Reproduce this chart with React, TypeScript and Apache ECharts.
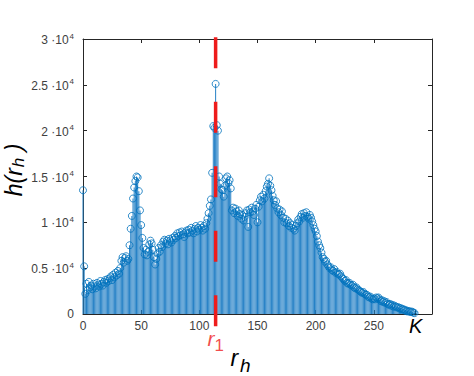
import React, { useEffect, useRef } from 'react';
import * as echarts from 'echarts';

// histogram values h(r_h), r_h = 0..285
const hValues: number[] = [
  13500, 5200, 2200, 3300, 2600, 3500, 2900, 3100, 2700, 3300,
  3000, 2800, 3400, 3200, 3000, 3600, 3300, 3100, 3500, 3700,
  3400, 3800, 3600, 3900, 4100, 3700, 4300, 4000, 4500, 4200,
  4700, 4400, 5000, 5800, 6200, 5600, 6100, 6300, 5800, 6000,
  7500, 9300, 10700, 12600, 13800, 14500, 15000, 14900, 13400, 11300,
  9700, 8300, 7200, 6500, 7000, 6400, 6800, 7600, 8000, 7700,
  7000, 6200, 5400, 6000, 6600, 7200, 6800, 7500, 7300, 7900,
  8100, 7700, 8000, 7600, 8200, 8000, 7800, 8300, 8100, 8500,
  8300, 8800, 8500, 8900, 8600, 9000, 8700, 8400, 8900, 9100,
  8800, 9200, 8900, 9400, 9100, 8800, 9300, 9600, 9000, 9400,
  9200, 9700, 9400, 9100, 9600, 9300, 9900, 10400, 11000, 11800,
  12500, 15400, 20500, 20300, 25100, 20600, 20000, 15000, 14200, 13600,
  13500, 12800, 14000, 14800, 15000, 14300, 14600, 13700, 11300, 11600,
  11000, 11500, 11200, 10700, 11300, 10900, 10400, 10800, 10200, 10600,
  11000, 11300, 9500, 11400, 11100, 11600, 11200, 10800, 11500, 11900,
  10000, 11700, 12400, 12800, 12300, 13000, 12600, 13400, 13900, 14200,
  14800, 14000, 13500, 12900, 12400, 11900, 12300, 11500, 11100, 11400,
  10800, 11200, 10500, 10000, 10400, 9900, 10200, 9600, 9900, 9400,
  9700, 9300, 9100, 9600, 9900, 10300, 10100, 10600, 10900, 10500,
  11000, 10700, 11100, 10600, 10400, 10800, 10500, 10100, 9700, 9300,
  9000, 8500, 7900, 7500, 7200, 6700, 6200, 6000, 5700, 5800,
  5400, 5200, 5000, 5100, 4800, 4700, 4900, 4500, 4600, 4400,
  4300, 4400, 4100, 3900, 3800, 3600, 3700, 3400, 3300, 3400,
  3200, 3100, 3200, 2900, 2800, 2900, 2700, 2600, 2500, 2400,
  2300, 2400, 2200, 2100, 2100, 1900, 1800, 1900, 1700, 1600,
  1700, 1600, 1800, 1700, 1800, 1600, 1400, 1500, 1300, 1400,
  1200, 1300, 1100, 1000, 1100, 900, 1000, 800, 900, 800,
  700, 750, 600, 650, 500, 550, 400, 450, 300, 350,
  250, 300, 200, 250, 150, 100,
];

const xTickValues: number[] = [0, 50, 100, 150, 200, 250];
const K = 286;
const r1 = 114;
const xMax = 300;
const yMax = 30000;
const yInterval = 5000;
const r1LineTop = 30200;
const r1LineBottom = -1400;

const BLUE = '#0072BD';
const STEM = '#2581c6';
const RED = '#ee1c1c';
const AX = '#262626';
const FONT = '"Liberation Sans", Arial, Helvetica, sans-serif';

export default function App() {
  const ref = useRef<HTMLDivElement>(null);

  useEffect(() => {
    if (!ref.current) return;
    const chart = echarts.init(ref.current, null, { renderer: 'svg' });
    const points = hValues.map((v, i) => [i, v]);

    const option: any = {
      animation: false,
      backgroundColor: '#ffffff',
      grid: { left: 83, top: 39, right: 42, bottom: 62, containLabel: false, outerBoundsMode: 'none' },
      xAxis: [
        {
          type: 'value',
          position: 'bottom',
          min: 0,
          max: xMax,
          interval: 50,
          splitLine: { show: false },
          axisLine: { show: true, onZero: false, lineStyle: { color: AX, width: 1 } },
          axisTick: {
            show: true,
            inside: true,
            length: 4,
            customValues: [...xTickValues, K],
            lineStyle: { color: AX },
          },
          axisLabel: {
            show: true,
            margin: 6,
            customValues: [...xTickValues, K],
            color: '#404040',
            fontSize: 12,
            fontFamily: FONT,
            formatter: (v: number) => (v === K ? '{k|K}' : String(v)),
            rich: {
              k: { fontSize: 20, fontStyle: 'italic', color: '#000', fontFamily: FONT, padding: [-4, 0, 0, 0] },
            },
          },
          name: '{r|r}{s|h}',
          nameLocation: 'middle',
          nameGap: 32,
          nameMoveOverlap: false,
          nameTextStyle: {
            padding: [0, 34, 0, 0],
            rich: {
              r: { fontSize: 23, fontStyle: 'italic', color: '#000', fontFamily: FONT, verticalAlign: 'top' },
              s: { fontSize: 19, fontStyle: 'italic', color: '#000', fontFamily: FONT, verticalAlign: 'bottom', padding: [10, 0, 0, 2] },
            },
          },
        },
        {
          type: 'value',
          position: 'top',
          min: 0,
          max: xMax,
          interval: 50,
          splitLine: { show: false },
          axisLine: { show: true, onZero: false, lineStyle: { color: AX, width: 1 } },
          axisTick: { show: true, inside: true, length: 4, lineStyle: { color: AX } },
          axisLabel: { show: false },
        },
      ],
      yAxis: [
        {
          type: 'value',
          position: 'left',
          min: 0,
          max: yMax,
          interval: yInterval,
          splitLine: { show: false },
          axisLine: { show: true, onZero: false, lineStyle: { color: AX, width: 1 } },
          axisTick: { show: true, inside: true, length: 4, lineStyle: { color: AX } },
          axisLabel: {
            margin: 9,
            color: '#404040',
            fontSize: 12,
            fontFamily: FONT,
            formatter: (v: number) => (v === 0 ? '{b|0}' : `{b|${v / 10000} ·10}{sup|4}`),
            rich: {
              b: { fontSize: 12, color: '#404040', fontFamily: FONT, verticalAlign: 'bottom' },
              sup: { fontSize: 8, color: '#404040', fontFamily: FONT, verticalAlign: 'top', padding: [0, 0, 6, 1] },
            },
          },
          name: '{i|h(r}{s|h}{i| )}',
          nameLocation: 'middle',
          nameRotate: 90,
          nameGap: 56,
          nameMoveOverlap: false,
          nameTextStyle: {
            padding: [0, 0, 0, 13],
            rich: {
              i: { fontSize: 23, fontStyle: 'italic', color: '#000', fontFamily: FONT, verticalAlign: 'top' },
              s: { fontSize: 17, fontStyle: 'italic', color: '#000', fontFamily: FONT, verticalAlign: 'bottom', padding: [8, 0, 0, 1] },
            },
          },
        },
        {
          type: 'value',
          position: 'right',
          min: 0,
          max: yMax,
          interval: yInterval,
          splitLine: { show: false },
          axisLine: { show: true, onZero: false, lineStyle: { color: AX, width: 1 } },
          axisTick: { show: true, inside: true, length: 4, lineStyle: { color: AX } },
          axisLabel: { show: false },
        },
      ],
      series: [
        {
          type: 'bar',
          xAxisIndex: 0,
          yAxisIndex: 0,
          data: points,
          barWidth: 1,
          itemStyle: { color: STEM },
          silent: true,
        },
        {
          type: 'scatter',
          xAxisIndex: 0,
          yAxisIndex: 0,
          data: points,
          symbol: 'circle',
          symbolSize: 7,
          itemStyle: { color: 'rgba(0,0,0,0)', borderColor: BLUE, borderWidth: 1 },
          silent: true,
        },
        {
          type: 'line',
          xAxisIndex: 0,
          yAxisIndex: 0,
          clip: false,
          data: [[r1, r1LineTop], [r1, r1LineBottom]],
          symbol: 'none',
          lineStyle: { color: RED, width: 3.5, type: [31, 33.5], cap: 'butt' },
          z: 5,
          silent: true,
        },
        {
          type: 'scatter',
          xAxisIndex: 0,
          yAxisIndex: 0,
          clip: false,
          data: [[r1, r1LineBottom]],
          symbolSize: 0,
          label: {
            show: true,
            position: 'bottom',
            distance: 1,
            formatter: '{r|r}{s|1}',
            rich: {
              r: { fontSize: 21, fontStyle: 'italic', color: RED, fontFamily: FONT, verticalAlign: 'top' },
              s: { fontSize: 17, color: RED, fontFamily: FONT, verticalAlign: 'bottom', padding: [9, 0, 0, 0] },
            },
          },
          z: 6,
          silent: true,
        },
      ],
    };

    chart.setOption(option);
    return () => chart.dispose();
  }, []);

  return (
    <div
      ref={ref}
      style={{ position: 'fixed', left: 0, top: 0, width: 474, height: 376, background: '#fff' }}
    />
  );
}
